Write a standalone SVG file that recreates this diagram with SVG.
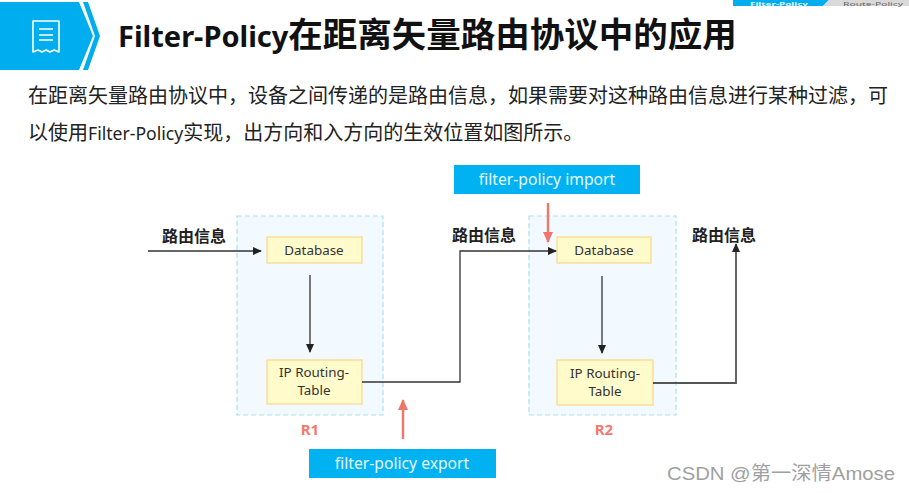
<svg xmlns="http://www.w3.org/2000/svg" width="909" height="493" viewBox="0 0 909 493">
<style>
text{font-family:"Noto Sans","Noto Sans CJK SC",sans-serif}
.zone{fill:#f2faff;stroke:#a6e2f6;stroke-width:1.2;stroke-dasharray:5 3}
.box{fill:#fffbcb;stroke:#fbd68c;stroke-width:1.2}
.lbl{font-size:13.4px;fill:#333;text-anchor:middle}
.info{font-size:16px;font-weight:700;fill:#222;text-anchor:middle}
.r{font-size:15px;font-weight:700;fill:#f4786b;text-anchor:middle}
.tag{fill:#00b2f2}
.tagt{font-size:15.7px;fill:#e6f8ff;text-anchor:middle}
.body{font-size:20px;fill:#222}
.lat{font-size:17.6px}
.wire{fill:none;stroke:#333;stroke-width:1.3}
.red{fill:none;stroke:#f0766a;stroke-width:2.4}
</style>
<defs>
<marker id="a" markerWidth="10" markerHeight="8" refX="8" refY="4" orient="auto" markerUnits="userSpaceOnUse"><path d="M0 0L9 4L0 8z" fill="#222"/></marker>
<marker id="b" markerWidth="12" markerHeight="12" refX="10" refY="5" orient="auto" markerUnits="userSpaceOnUse"><path d="M0 0L11 5L0 10z" fill="#f0766a"/></marker>
</defs>
<rect width="909" height="493" fill="#fff"/>
<g id="header">
<path d="M0 2H79L93 36L79 70H0z" fill="#00aeef"/>
<path d="M83 2H88L100 36L88 70H83L95 36z" fill="#00aeef"/>
<path d="M33 21H59V52L54 50L50 52L46 50L42 52L38 50L33 52z" fill="none" stroke="#fff" stroke-width="1.6" stroke-linejoin="round"/>
<path d="M39 29H53M39 35H53M39 40H53" stroke="#fff" stroke-width="1.6" fill="none"/>
<text x="118" y="47" font-size="29px" font-weight="700" fill="#111">Filter-Policy<tspan font-size="34.5px">在距离矢量路由协议中的应用</tspan></text>
</g>
<g id="tabs">
<path d="M733 0H829L823 6H733z" fill="#00aeef"/>
<path d="M829 0H909V6H823z" fill="#d9d9d9"/>
<text x="750" y="5.5" font-size="5px" font-weight="700" fill="#e6f8ff" textLength="58" lengthAdjust="spacingAndGlyphs">Filter-Policy</text>
<text x="843" y="5.5" font-size="5px" fill="#666" textLength="60" lengthAdjust="spacingAndGlyphs">Route-Policy</text>
</g>
<g id="intro">
<text class="body" x="28" y="103">在距离矢量路由协议中，设备之间传递的是路由信息，如果需要对这种路由信息进行某种过滤，可</text>
<text class="body" x="28" y="140">以使用<tspan class="lat">Filter-Policy</tspan>实现，出方向和入方向的生效位置如图所示。</text>
</g>
<g id="R1"><rect class="zone" x="237" y="216" width="146" height="199"/><text class="r" x="310" y="435">R1</text></g>
<g id="R2"><rect class="zone" x="529" y="216" width="147" height="199"/><text class="r" x="604" y="435">R2</text></g>
<g id="r1-database"><rect class="box" x="267" y="237" width="95" height="26"/><text class="lbl" x="314" y="255">Database</text></g>
<g id="r1-table"><rect class="box" x="267" y="360" width="95" height="44"/><text class="lbl" x="314" y="377">IP Routing-</text><text class="lbl" x="314" y="395">Table</text></g>
<g id="r2-database"><rect class="box" x="557" y="237" width="94" height="26"/><text class="lbl" x="604" y="255">Database</text></g>
<g id="r2-table"><rect class="box" x="557" y="360" width="96" height="45"/><text class="lbl" x="605" y="378">IP Routing-</text><text class="lbl" x="605" y="396">Table</text></g>
<g id="connectors">
<path class="wire" d="M148 251H261" marker-end="url(#a)"/>
<path class="wire" d="M310 275V352" marker-end="url(#a)"/>
<path class="wire" d="M362 382H460V251H556" marker-end="url(#a)"/>
<path class="wire" d="M602 276V353" marker-end="url(#a)"/>
<path class="wire" d="M653 383H736V244" marker-end="url(#a)" style="stroke:#555;stroke-width:1.8"/>
<path class="red" d="M548 203V242" marker-end="url(#b)"/>
<path class="red" d="M403 439V400" marker-end="url(#b)"/>
</g>
<g id="info-1"><text class="info" x="194" y="242">路由信息</text></g>
<g id="info-2"><text class="info" x="484" y="241">路由信息</text></g>
<g id="info-3"><text class="info" x="724" y="241">路由信息</text></g>
<g id="import-tag"><rect class="tag" x="454" y="165" width="186" height="29"/><text class="tagt" x="547" y="185">filter-policy import</text></g>
<g id="export-tag"><rect class="tag" x="309" y="449" width="187" height="29"/><text class="tagt" x="402" y="469">filter-policy export</text></g>
<text x="667" y="480" font-size="19px" fill="#a0a0a0" style="font-family:'Liberation Sans','Noto Sans CJK SC',sans-serif" textLength="228" lengthAdjust="spacingAndGlyphs">CSDN @第一深情Amose</text>
</svg>
